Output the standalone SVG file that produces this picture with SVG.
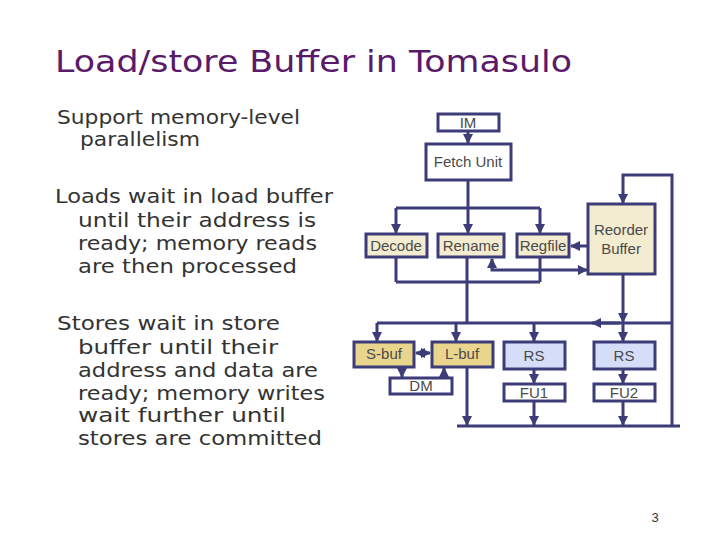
<svg xmlns="http://www.w3.org/2000/svg" width="720" height="540" viewBox="0 0 720 540">
<defs>
<marker id="a" viewBox="0 0 10 10" refX="9" refY="5" markerWidth="3.5" markerHeight="3.5" orient="auto-start-reverse"><path d="M0,0 L10,5 L0,10 z" fill="#3c3c78"/></marker>
<style>
.b{stroke:#3c3c78;stroke-width:3}
.w{fill:#fff}.c{fill:#f4ecd0}.g{fill:#ead58e}.r{fill:#d5ddf8}
.t{font-family:"Liberation Sans",Arial,sans-serif;font-size:15px;fill:#4a4a4a;text-anchor:middle}
.l{fill:none;stroke:#3c3c78;stroke-width:3}
.s{font-family:"DejaVu Sans",sans-serif;font-size:20px;fill:#333}
</style>
</defs>
<rect width="720" height="540" fill="#fff"/>
<text x="55" y="72" font-family="DejaVu Sans,sans-serif" font-size="31" fill="#5a1a6a" textLength="517" lengthAdjust="spacingAndGlyphs">Load/store Buffer in Tomasulo</text>
<g class="s">
<text x="57" y="124" textLength="243" lengthAdjust="spacingAndGlyphs">Support memory-level</text>
<text x="80" y="146" textLength="120" lengthAdjust="spacingAndGlyphs">parallelism</text>
<text x="55" y="203" textLength="278" lengthAdjust="spacingAndGlyphs">Loads wait in load buffer</text>
<text x="78" y="227" textLength="238" lengthAdjust="spacingAndGlyphs">until their address is</text>
<text x="78" y="250" textLength="239" lengthAdjust="spacingAndGlyphs">ready; memory reads</text>
<text x="78" y="273" textLength="219" lengthAdjust="spacingAndGlyphs">are then processed</text>
<text x="57" y="330" textLength="223" lengthAdjust="spacingAndGlyphs">Stores wait in store</text>
<text x="78" y="354" textLength="200" lengthAdjust="spacingAndGlyphs">buffer until their</text>
<text x="78" y="377" textLength="240" lengthAdjust="spacingAndGlyphs">address and data are</text>
<text x="78" y="400" textLength="247" lengthAdjust="spacingAndGlyphs">ready; memory writes</text>
<text x="78" y="422" textLength="208" lengthAdjust="spacingAndGlyphs">wait further until</text>
<text x="78" y="445" textLength="244" lengthAdjust="spacingAndGlyphs">stores are committed</text>
</g>
<g id="connectors" class="l">
<path d="M468,131 V143" marker-end="url(#a)"/>
<path d="M468,180 V208 M396,208 H540"/>
<path d="M396,208 V233" marker-end="url(#a)"/>
<path d="M468,208 V233" marker-end="url(#a)"/>
<path d="M540,208 V233" marker-end="url(#a)"/>
<path d="M396,257 V282 M467,257 V282 M540,257 V282 M396,282 H540"/>
<path d="M467,282 V322"/>
<path d="M377,323 H672"/>
<path d="M620,323 H592" marker-end="url(#a)"/>
<path d="M672,426 V175 H623 V203" marker-end="url(#a)"/>
<path d="M588,246 H571" marker-end="url(#a)"/>
<path d="M492,259 V270 H587" marker-start="url(#a)" marker-end="url(#a)"/>
<path d="M623,274 V322" marker-end="url(#a)"/>
<path d="M377,323 V341" marker-end="url(#a)"/>
<path d="M456,323 V341" marker-end="url(#a)"/>
<path d="M534,323 V341" marker-end="url(#a)"/>
<path d="M623,323 V341" marker-end="url(#a)"/>
<path d="M416,353 H430" marker-start="url(#a)" marker-end="url(#a)"/>
<path d="M402,367 V377" marker-end="url(#a)"/>
<path d="M444,378 V368" marker-end="url(#a)"/>
<path d="M534,369 V383" marker-end="url(#a)"/>
<path d="M623,369 V383" marker-end="url(#a)"/>
<path d="M467,367 V425" marker-end="url(#a)"/>
<path d="M534,401 V425" marker-end="url(#a)"/>
<path d="M623,401 V425" marker-end="url(#a)"/>
<path d="M457,426 H680"/>
</g>
<g id="IM"><rect class="b w" x="438" y="114" width="61" height="17"/><text class="t" x="468" y="128">IM</text></g>
<g id="fetch"><rect class="b w" x="426" y="144" width="85" height="36"/><text class="t" x="468" y="167">Fetch Unit</text></g>
<g id="decode"><rect class="b c" x="366" y="234" width="61" height="23"/><text class="t" x="396" y="251">Decode</text></g>
<g id="rename"><rect class="b c" x="438" y="234" width="66" height="23"/><text class="t" x="471" y="251">Rename</text></g>
<g id="regfile"><rect class="b c" x="517" y="234" width="52" height="23"/><text class="t" x="543" y="251">Regfile</text></g>
<g id="rob"><rect class="b c" x="588" y="204" width="67" height="70"/><text class="t" x="621" y="235">Reorder</text><text class="t" x="621" y="254">Buffer</text></g>
<g id="sbuf"><rect class="b g" x="354" y="342" width="60" height="25"/><text class="t" x="384" y="359">S-buf</text></g>
<g id="lbuf"><rect class="b g" x="432" y="342" width="61" height="25"/><text class="t" x="462" y="359">L-buf</text></g>
<g id="dm"><rect class="b w" x="390" y="378" width="62" height="16"/><text class="t" x="421" y="391">DM</text></g>
<g id="rs1"><rect class="b r" x="504" y="342" width="61" height="27"/><text class="t" x="534" y="361">RS</text></g>
<g id="rs2"><rect class="b r" x="594" y="342" width="61" height="27"/><text class="t" x="624" y="361">RS</text></g>
<g id="fu1"><rect class="b w" x="504" y="384" width="61" height="17"/><text class="t" x="534" y="398">FU1</text></g>
<g id="fu2"><rect class="b w" x="594" y="384" width="61" height="17"/><text class="t" x="624" y="398">FU2</text></g>
<text x="655" y="522" font-family="Liberation Sans,sans-serif" font-size="13" fill="#333" text-anchor="middle">3</text>
</svg>
